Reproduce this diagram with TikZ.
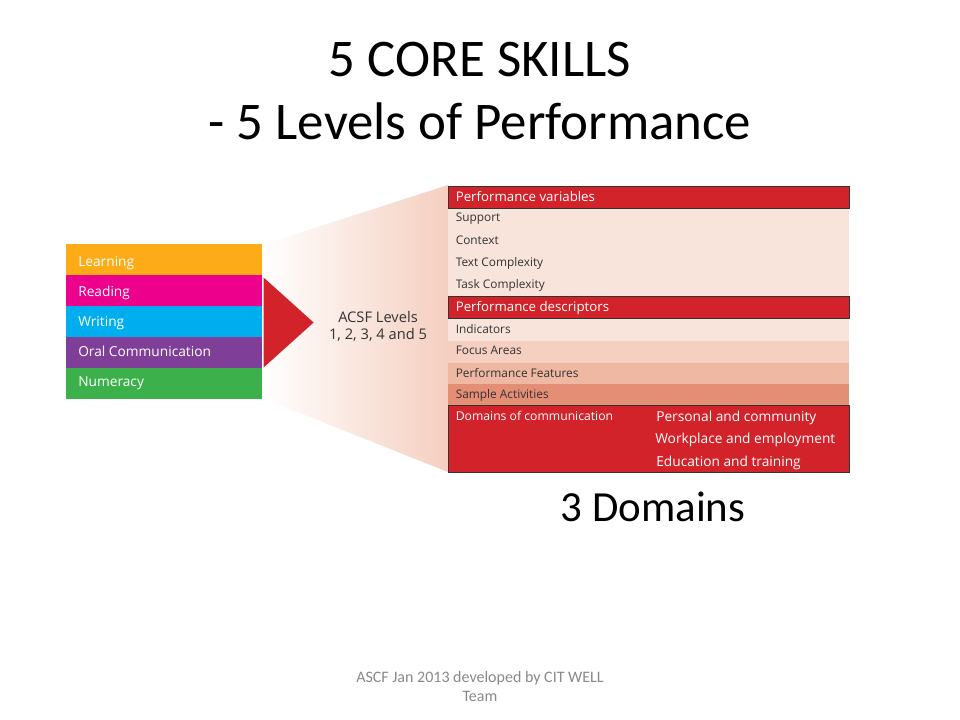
\documentclass[tikz,border=0pt]{standalone}
\usepackage{fontspec}
\setmainfont{Carlito}
\newfontfamily\chartfont{Open Sans}
\usetikzlibrary{shapes.geometric}
\definecolor{myorange}{HTML}{FDAC17}
\definecolor{mypink}{HTML}{EC008C}
\definecolor{myblue}{HTML}{00AEEF}
\definecolor{mypurple}{HTML}{7F3F98}
\definecolor{mygreen}{HTML}{3CB04B}
\definecolor{myred}{HTML}{D2232A}
\definecolor{mypale}{HTML}{F9E4DC}
\definecolor{mypeach}{HTML}{F5CFC0}
\definecolor{mysalmon}{HTML}{EFB8A2}
\definecolor{mydeep}{HTML}{E58E76}
\definecolor{myfoot}{HTML}{898989}
\tikzset{
  skillbar/.style={anchor=north west,minimum width=147pt,minimum height=23.25pt,inner sep=0pt},
  tablerow/.style={anchor=north west,minimum width=300.75pt,minimum height=16.5pt,inner sep=0pt},
  headrow/.style={tablerow,fill=myred,draw=black!80,line width=0.6pt},
  whitelabel/.style={anchor=base west,inner sep=0pt,text=white,font=\chartfont\fontsize{10.3}{12}\selectfont},
  rowlabel/.style={anchor=base west,inner sep=0pt,text=black!80,font=\chartfont\fontsize{8.9}{10}\selectfont},
  slidetitle/.style={font=\fontsize{39.7}{46}\selectfont,text=black}
}
\begin{document}
\begin{tikzpicture}[x=0.75pt,y=-0.75pt]
      \useasboundingbox (0,0) rectangle (960,720);

      % TEXT
      \node[slidetitle] (title1) at (480,60) {5 CORE SKILLS};
      \node[slidetitle] (title2) at (480,121.5) {- 5 Levels of Performance};

      % funnel
      \shade[left color=white,right color=mypeach,draw=none]
        (262,245) -- (448,185) -- (448,472) -- (262,398) -- cycle;
      \node[isosceles triangle,isosceles triangle apex angle=84,fill=myred,minimum height=37.5pt,
        inner sep=0pt,anchor=apex] (pointer) at (314,322.5) {};
      \node[align=center,text=black!80,font=\chartfont\fontsize{11}{13}\selectfont] (levels)
        at (378,326.5) {ACSF Levels\\1, 2, 3, 4 and 5};

      % skills
      \node[skillbar,fill=myorange] (learning) at (66,244) {};
      \node[skillbar,fill=mypink] (reading) at (66,275) {};
      \node[skillbar,fill=myblue] (writing) at (66,306) {};
      \node[skillbar,fill=mypurple] (oral) at (66,337) {};
      \node[skillbar,fill=mygreen] (numeracy) at (66,368) {};
      \node[whitelabel] (learninglabel) at (78,266.7) {Learning};
      \node[whitelabel] (readinglabel) at (78,296.7) {Reading};
      \node[whitelabel] (writinglabel) at (78,326.5) {Writing};
      \node[whitelabel] (orallabel) at (78,356.5) {Oral Communication};
      \node[whitelabel] (numeracylabel) at (78,386.5) {Numeracy};

      % variables
      \node[tablerow,fill=mypale,minimum height=66pt] (variableblock) at (448,208) {};
      \node[headrow] (variables) at (448,186) {};
      \node[whitelabel,font=\chartfont\fontsize{9.95}{12}\selectfont] (variableslabel) at (455.5,201.7) {Performance variables};
      \node[rowlabel] (support) at (455.5,221.7) {Support};
      \node[rowlabel] (context) at (455.5,244.5) {Context};
      \node[rowlabel] (textcomplexity) at (455.5,266.7) {Text Complexity};
      \node[rowlabel] (taskcomplexity) at (455.5,288.3) {Task Complexity};

      % descriptors
      \node[tablerow,fill=mypale] (indicators) at (448,319) {};
      \node[tablerow,fill=mypeach] (focus) at (448,341) {};
      \node[tablerow,fill=mysalmon] (features) at (448,362.5) {};
      \node[tablerow,fill=mydeep] (activities) at (448,384) {};
      \node[headrow] (descriptors) at (448,296) {};
      \node[whitelabel,font=\chartfont\fontsize{9.95}{12}\selectfont] (descriptorslabel) at (455.5,311) {Performance descriptors};
      \node[rowlabel] (indicatorslabel) at (455.5,333.2) {Indicators};
      \node[rowlabel] (focuslabel) at (455.5,354.8) {Focus Areas};
      \node[rowlabel] (featureslabel) at (455.5,377.2) {Performance Features};
      \node[rowlabel] (activitieslabel) at (455.5,398.3) {Sample Activities};

      % domains
      \node[headrow,minimum height=50.25pt] (domainblock) at (448,405) {};
      \node[whitelabel,font=\chartfont\fontsize{9.15}{11}\selectfont] (communication) at (455.5,420) {Domains of communication};
      \node[whitelabel] (personal) at (656,421.4) {Personal and community};
      \node[whitelabel] (workplace) at (655,443.3) {Workplace and employment};
      \node[whitelabel] (education) at (656,466.2) {Education and training};

      \node[font=\fontsize{32.2}{38}\selectfont] (domains) at (653,507) {3 Domains};

      % footer
      \node[align=center,text=myfoot,font=\fontsize{12}{14.2}\selectfont] (footer) at (480,686.5)
        {ASCF Jan 2013 developed by CIT WELL\\Team};

\end{tikzpicture}
\end{document}
